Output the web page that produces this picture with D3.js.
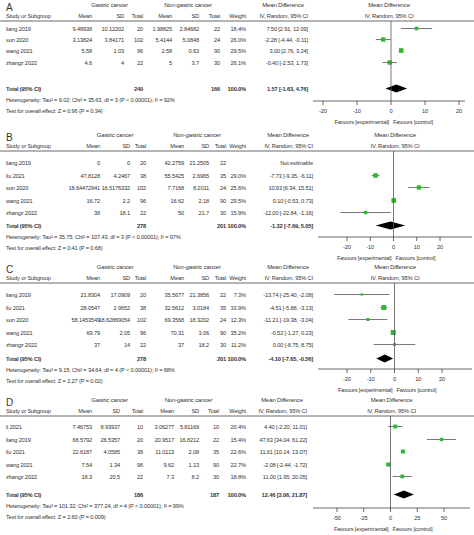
<!DOCTYPE html>
<html><head><meta charset="utf-8">
<script src="https://d3js.org/d3.v7.min.js"></script>
<style>body{margin:0;background:#fff}text{font-family:"Liberation Sans",Arial,sans-serif;fill:#333;letter-spacing:-0.15px}</style>
</head><body><svg id="c" width="474" height="535"></svg>
<script>
const panelLabels = ["A","B","C","D"];
const studiesA = ["liang 2019","sun 2020","wang 2021","zhangz 2022"];
const gMeanA = ["9.48938","3.13824","5.58","4.6"], gSdA = ["10.12202","3.84171","1.03","4"], gNA = [20,102,96,22];
const nMeanA = ["1.98825","5.4144","2.58","5"], nSdA = ["2.84682","5.0848","0.63","3.7"], nNA = [22,24,90,30];
const wA = [18.4,26.0,29.5,26.1];
const mdA = [7.50,-2.28,3.00,-0.40], loA = [2.91,-4.44,2.76,-2.53], hiA = [12.09,-0.11,3.24,1.73];
const totA = {g:240,n:166,md:1.57,lo:-1.63,hi:4.76,het:"Heterogeneity: Tau² = 9.02; Chi² = 35.63, df = 3 (P < 0.00001); I² = 92%",z:"Test for overall effect: Z = 0.96 (P = 0.34)"};
const ticksA = [-20,-10,0,10,20];

const studiesB = ["liang 2019","liu 2021","sun 2020","wang 2021","zhangz 2022"];
const gMeanB = ["0","47.8128","18.64472941","16.72","38"], gSdB = ["0","4.2467","16.5176332","2.2","18.1"], gNB = [20,38,102,96,22];
const nMeanB = ["42.2759","55.5425","7.7168","16.62","50"], nSdB = ["21.2505","2.6965","8.2011","2.18","21.7"], nNB = [22,35,24,90,30];
const wB = [null,29.0,25.6,29.5,15.9];
const mdB = [null,-7.73,10.93,0.10,-12.00], loB = [null,-9.35,6.34,-0.53,-22.84], hiB = [null,-6.11,15.51,0.73,-1.16];
const totB = {g:278,n:201,md:-1.32,lo:-7.69,hi:5.05,het:"Heterogeneity: Tau² = 35.75; Chi² = 107.43, df = 3 (P < 0.00001); I² = 97%",z:"Test for overall effect: Z = 0.41 (P = 0.68)"};
const ticksB = [-20,-10,0,10,20];

const studiesC = ["liang 2019","liu 2021","sun 2020","wang 2021","zhangz 2022"];
const gMeanC = ["21.8304","28.0547","58.1453549","69.79","37"], gSdC = ["17.0909","2.9652","18.62869054","2.05","14"], gNC = [20,38,102,96,22];
const nMeanC = ["35.5677","32.5612","69.3568","70.31","37"], nSdC = ["21.3856","3.0184","18.3202","3.06","18.2"], nNC = [22,35,24,90,30];
const wC = [7.3,33.9,12.3,35.2,11.2];
const mdC = [-13.74,-4.51,-11.21,-0.52,0.00], loC = [-25.40,-5.88,-19.38,-1.27,-8.75], hiC = [-2.08,-3.13,-3.04,0.23,8.75];
const totC = {g:278,n:201,md:-4.10,lo:-7.65,hi:-0.56,het:"Heterogeneity: Tau² = 9.15; Chi² = 34.64, df = 4 (P < 0.00001); I² = 88%",z:"Test for overall effect: Z = 2.27 (P = 0.02)"};
const ticksC = [-20,-10,0,10,20];

const studiesD = ["li 2021","liang 2019","liu 2021","wang 2021","zhangz 2022"];
const gMeanD = ["7.46753","68.5792","22.6187","7.54","18.3"], gSdD = ["8.93937","26.5357","4.0585","1.34","20.5"], gND = [10,20,38,96,22];
const nMeanD = ["3.06277","20.9517","11.0113","9.62","7.3"], nSdD = ["5.81169","16.8212","2.08","1.13","8.2"], nND = [10,22,35,90,30];
const wD = [20.4,15.4,22.6,22.7,18.8];
const mdD = [4.40,47.63,11.61,-2.08,11.00], loD = [-2.20,34.04,10.14,-2.44,1.95], hiD = [11.01,61.22,13.07,-1.72,20.05];
const totD = {g:186,n:187,md:12.46,lo:3.06,hi:21.87,het:"Heterogeneity: Tau² = 101.32; Chi² = 377.24, df = 4 (P < 0.00001); I² = 99%",z:"Test for overall effect: Z = 2.60 (P = 0.009)"};
const ticksD = [-50,-25,0,25,50];

const panels = [
 {y0:0, studies:studiesA,gm:gMeanA,gs:gSdA,gn:gNA,nm:nMeanA,ns:nSdA,nn:nNA,w:wA,md:mdA,lo:loA,hi:hiA,tot:totA,ticks:ticksA,
  cols:[92,124,143,172,199,220,246,308], px:[323,459], rows:[31,42,53,65], totY:91, axY:101, plotL:313, plotR:465},
 {y0:130, studies:studiesB,gm:gMeanB,gs:gSdB,gn:gNB,nm:nMeanB,ns:nSdB,nn:nNB,w:wB,md:mdB,lo:loB,hi:hiB,tot:totB,ticks:ticksB,
  cols:[100,130,146,184,209,226,246,313], px:[347,440], rows:[35,48,60,73,85], totY:98, axY:107, plotL:318, plotR:472},
 {y0:262, studies:studiesC,gm:gMeanC,gs:gSdC,gn:gNC,nm:nMeanC,ns:nSdC,nn:nNC,w:wC,md:mdC,lo:loC,hi:hiC,tot:totC,ticks:ticksC,
  cols:[100,130,146,184,209,226,246,313], px:[347,442], rows:[35,48,60,73,85], totY:99, axY:107, plotL:318, plotR:472},
 {y0:395, studies:studiesD,gm:gMeanD,gs:gSdD,gn:gND,nm:nMeanD,ns:nSdD,nn:nND,w:wD,md:mdD,lo:loD,hi:hiD,tot:totD,ticks:ticksD,
  cols:[92,120,143,174,199,219,246,307], px:[337,444], rows:[34,47,59,72,84], totY:102, axY:113, plotL:313, plotR:470}
];

const svg = d3.select("#c");
const f2 = d3.format(".2f");
const fmt = v => f2(v).replace("−","-");
panels.forEach((p,pi)=>{
  const g = svg.append("g").attr("transform",`translate(0,${p.y0})`);
  const fs = 5.7;
  const T = (x,y,t,anchor,opt={})=>g.append("text").attr("x",x).attr("y",y).attr("text-anchor",anchor||"start")
     .attr("font-size",opt.fs||fs).attr("font-weight",opt.bold?"bold":null).text(t);
  T(6,11,panelLabels[pi],"start",{fs:10});
  const c = p.cols;
  const x = d3.scaleLinear().domain([p.ticks[0],p.ticks[4]]).range(p.px);
  const plotC = (p.plotL+p.plotR)/2;
  T((c[0]+c[2])/2-8,7,"Gastric cancer","middle",{fs:6});
  T((c[3]+c[5])/2-8,7,"Non-gastric cancer","middle",{fs:6});
  T(c[7]-25,7,"Mean Difference","middle",{fs:6});
  T(plotC,7,"Mean Difference","middle",{fs:6});
  const hy=18;
  T(6,hy,"Study or Subgroup");
  ["Mean","SD","Total","Mean","SD","Total","Weight"].forEach((h,i)=>T(c[i],hy,h,"end"));
  T(c[7],hy,"IV, Random, 95% CI","end");
  T(plotC,hy,"IV, Random, 95% CI","middle");
  g.append("line").attr("x1",0).attr("x2",474).attr("y1",hy+3).attr("y2",hy+3).attr("stroke","#444").attr("stroke-width",0.8);
  p.studies.forEach((s,i)=>{
    const y=p.rows[i];
    T(6,y,s);
    [p.gm[i],p.gs[i],p.gn[i],p.nm[i],p.ns[i],p.nn[i]].forEach((v,j)=>T(c[j],y,v,"end"));
    if(p.w[i]!=null){
      T(c[6],y,p.w[i].toFixed(1)+"%","end");
      T(c[7],y,`${fmt(p.md[i])} [${fmt(p.lo[i])}, ${fmt(p.hi[i])}]`,"end");
      const cy=y-2.5;
      g.append("line").attr("x1",x(p.lo[i])).attr("x2",x(p.hi[i])).attr("y1",cy).attr("y2",cy).attr("stroke","#555").attr("stroke-width",0.8);
      const sz=Math.sqrt(p.w[i])*0.85;
      g.append("rect").attr("x",x(p.md[i])-sz/2).attr("y",cy-sz/2).attr("width",sz).attr("height",sz).attr("fill","#2db82d");
    } else T(c[7],y,"Not estimable","end");
  });
  const ty=p.totY, t=p.tot;
  T(6,ty,"Total (95% CI)","start",{bold:true});
  T(c[2],ty,t.g,"end",{bold:true});
  T(c[5],ty,t.n,"end",{bold:true});
  T(c[6],ty,"100.0%","end",{bold:true});
  T(c[7],ty,`${fmt(t.md)} [${fmt(t.lo)}, ${fmt(t.hi)}]`,"end",{bold:true});
  T(6,ty+11,t.het);
  T(6,ty+22,t.z);
  const dy=ty-2.5;
  g.append("path").attr("d",`M${x(t.lo)},${dy}L${x(t.md)},${dy-4}L${x(t.hi)},${dy}L${x(t.md)},${dy+4}Z`).attr("fill","#000");
  g.append("line").attr("x1",x(0)).attr("x2",x(0)).attr("y1",hy+3).attr("y2",p.axY).attr("stroke","#555").attr("stroke-width",0.8);
  g.append("line").attr("x1",p.plotL).attr("x2",p.plotR).attr("y1",p.axY).attr("y2",p.axY).attr("stroke","#444").attr("stroke-width",0.8);
  p.ticks.forEach(v=>{
    g.append("line").attr("x1",x(v)).attr("x2",x(v)).attr("y1",p.axY).attr("y2",p.axY+4).attr("stroke","#444").attr("stroke-width",0.8);
    T(x(v),p.axY+12,String(v),"middle");
  });
  T(x(0)-2,p.axY+23,"Favours [experimental]","end",{fs:5.7});
  T(x(0)+2,p.axY+23,"Favours [control]","start",{fs:5.7});
});
</script></body></html>
